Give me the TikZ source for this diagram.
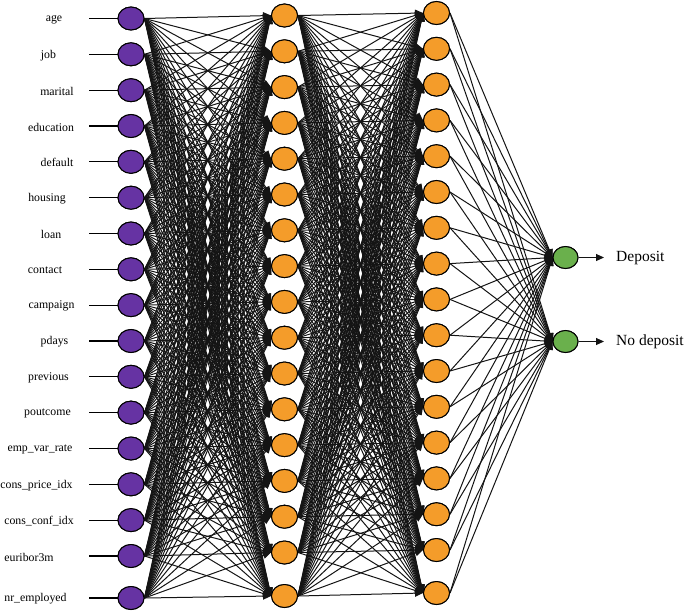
\documentclass[tikz,border=0pt]{standalone}
\usepackage{fontspec}
\setmainfont{Liberation Serif}
\usetikzlibrary{arrows.meta,shapes.geometric}
\definecolor{inpurple}{HTML}{6633A3}
\definecolor{hidorange}{HTML}{F49C2A}
\definecolor{outgreen}{HTML}{6AB04C}
\tikzset{
  neuron/.style={ellipse,draw=black,line width=1pt,minimum width=26pt,minimum height=23pt,inner sep=0pt},
  inneuron/.style={neuron,fill=inpurple},
  hidneuron/.style={neuron,fill=hidorange},
  outneuron/.style={neuron,fill=outgreen,minimum width=25pt,minimum height=22pt},
  conn/.style={line width=1pt,draw=black!92,-{Triangle[length=8pt,width=7pt]}},
  feed/.style={line width=1.1pt},
  inlabel/.style={font=\fontsize{11.8}{13}\selectfont,inner sep=0pt},
  outlabel/.style={font=\fontsize{15.5}{17}\selectfont,inner sep=0pt,anchor=west}
}
\begin{document}
\begin{tikzpicture}[x=1pt,y=-1pt]
\useasboundingbox (0,0) rectangle (685,611);
% input layer
\foreach \i/\y/\lab/\lx in {
 0/18.5/age/54, 1/54.3/job/48.5, 2/90.2/marital/57, 3/126/education/51,
 4/161.8/default/57, 5/197.7/housing/47, 6/233.5/loan/51, 7/269.3/contact/45,
 8/305.1/campaign/51.5, 9/341/pdays/54.5, 10/376.8/previous/48.5, 11/412.6/poutcome/47.5,
 12/448.5/emp\_var\_rate/40, 13/484.3/cons\_price\_idx/36.5, 14/520.1/cons\_conf\_idx/39,
 15/556/euribor3m/29, 16/598/nr\_employed/35.5}{
  \node[inneuron] (i\i) at (131,\y) {};
  \node[inlabel] (l\i) at (\lx,\y+1) {\lab};
  \coordinate (f\i) at (89,\y);
  \draw[feed] (f\i) -- (i\i.west);
}
% hidden layer 1
\foreach \i/\y in {0/15.5,1/51.3,2/87.1,3/122.9,4/158.7,5/194.5,6/230.3,7/266.1,8/301.9,
 9/337.7,10/373.5,11/409.3,12/445.1,13/480.9,14/516.7,15/552.5,16/596}{
  \node[hidneuron] (h\i) at (284.5,\y) {};
}
% hidden layer 2
\foreach \i/\y in {0/13,1/48.8,2/84.6,3/120.4,4/156.2,5/192,6/227.8,7/263.6,8/299.4,
 9/335.2,10/371,11/406.8,12/442.6,13/478.4,14/514.2,15/550,16/593}{
  \node[hidneuron] (k\i) at (436.5,\y) {};
}
% output layer
\node[outneuron] (o0) at (565.5,257.5) {};
\node[outneuron] (o1) at (565.5,341.5) {};
\node[outlabel] (t0) at (616,258) {Deposit};
\node[outlabel] (t1) at (616,342) {No deposit};
\coordinate (e0) at (604,257.5);
\coordinate (e1) at (604,341.5);
\draw[conn] (o0.east) -- (e0);
\draw[conn] (o1.east) -- (e1);
% connections
\foreach \a in {0,...,16}{
  \foreach \b in {0,...,16}{
    \draw[conn] (i\a.east) -- (h\b.west);
    \draw[conn] (h\a.east) -- (k\b.west);
  }
  \draw[conn] (k\a.east) -- (o0.west);
  \draw[conn] (k\a.east) -- (o1.west);
}
% redraw nodes on top
\foreach \i in {0,...,16}{
  \node[inneuron] at (i\i) {};
  \node[hidneuron] at (h\i) {};
  \node[hidneuron] at (k\i) {};
}
\node[outneuron] at (o0) {};
\node[outneuron] at (o1) {};
\end{tikzpicture}
\end{document}
